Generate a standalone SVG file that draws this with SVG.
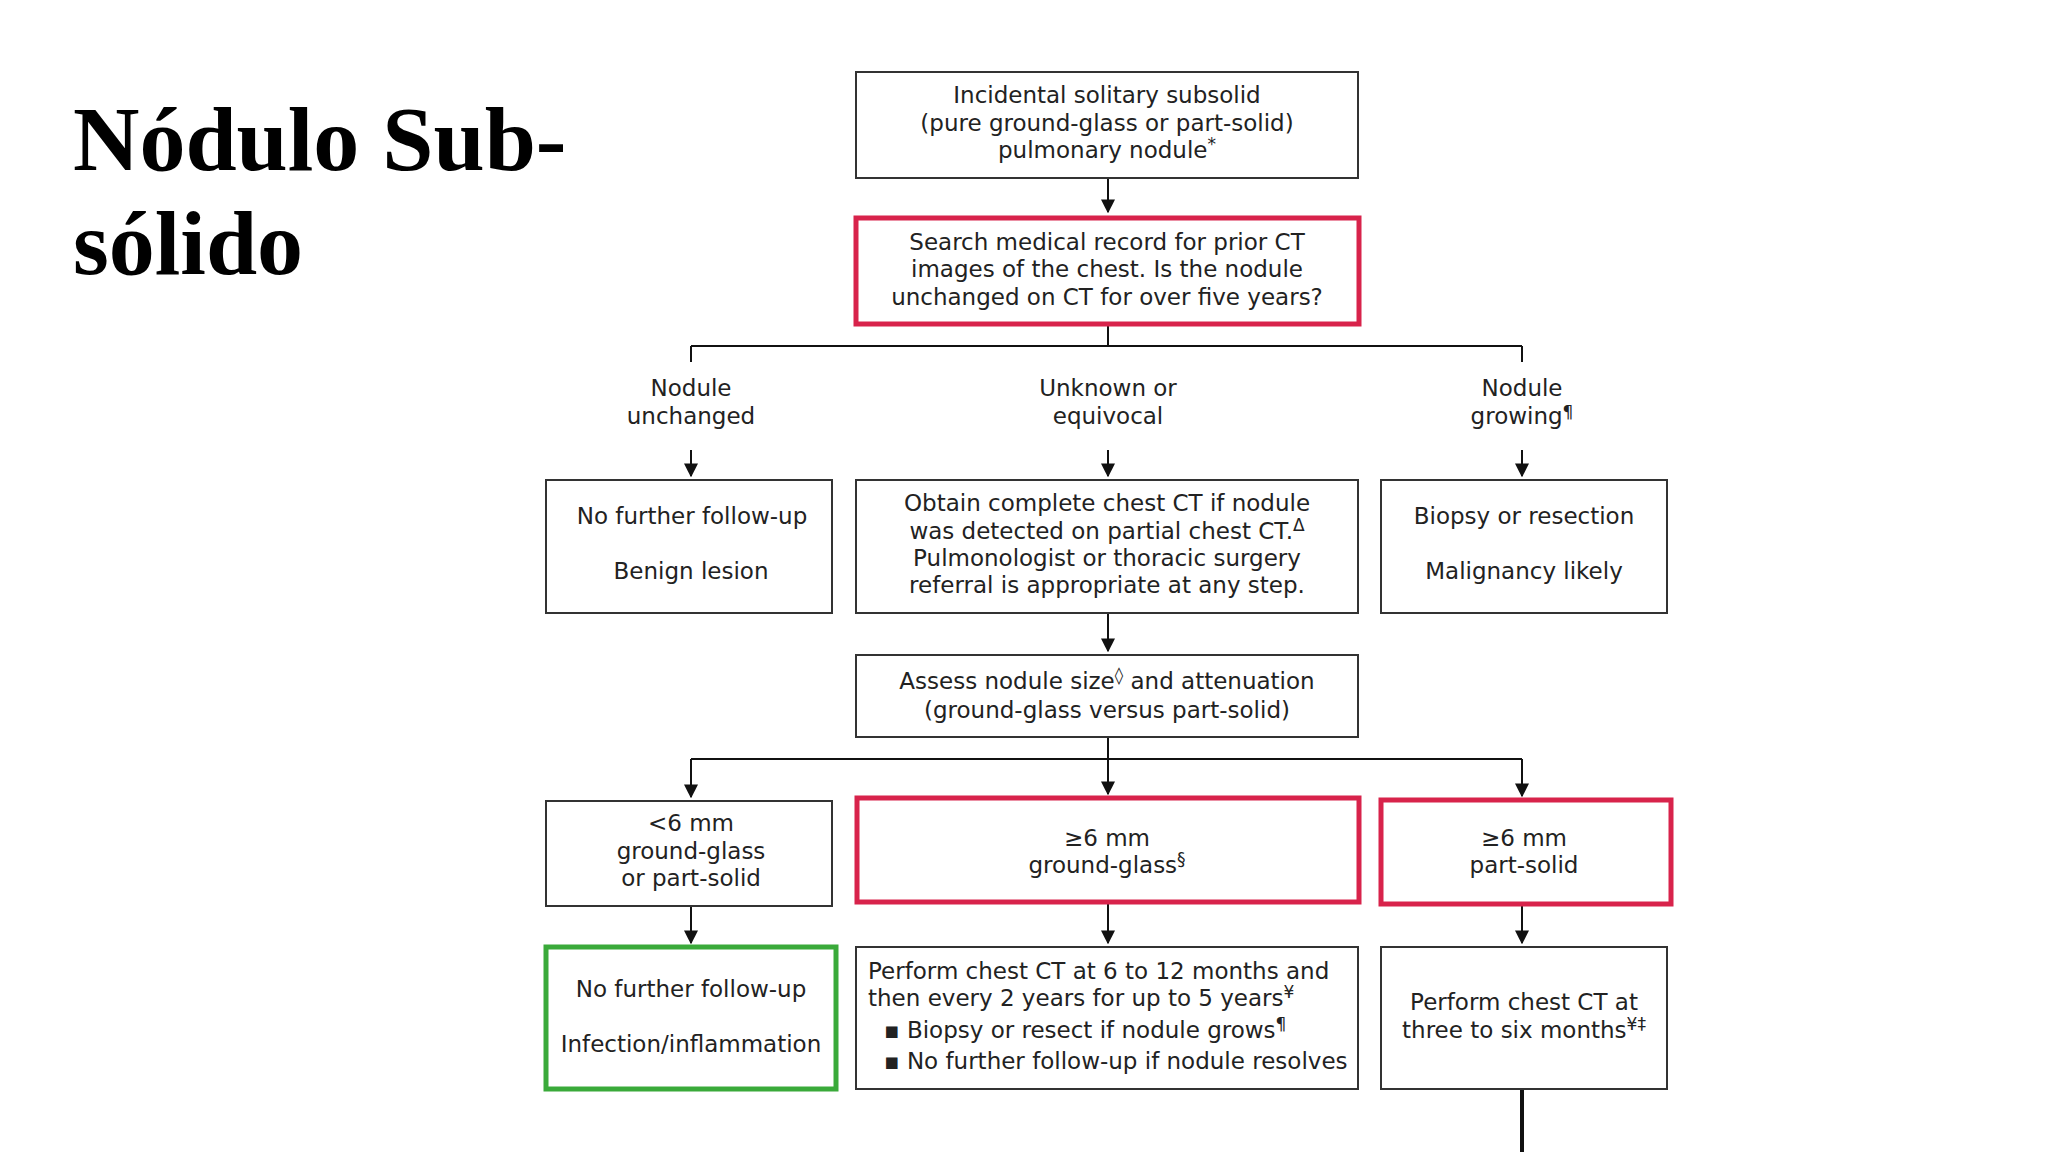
<svg xmlns="http://www.w3.org/2000/svg" width="2048" height="1152" viewBox="0 0 2048 1152">
<style>
.b{fill:#fff;stroke:#333;stroke-width:2}
.r{fill:#fff;stroke:#d8234b;stroke-width:5}
.g{fill:#fff;stroke:#3aaa3a;stroke-width:5}
text{font-family:"DejaVu Sans",Verdana,sans-serif;font-size:23px;fill:#222;text-anchor:middle}
.l{text-anchor:start}
.s{font-size:17px}
.t{font-family:"Liberation Serif","Times New Roman",serif;font-size:92px;font-weight:bold;fill:#000;text-anchor:start}
.c{stroke:#111;stroke-width:2;fill:none}
</style>
<defs><marker id="a" viewBox="0 0 10 10" refX="9" refY="5" markerWidth="14" markerHeight="14" markerUnits="userSpaceOnUse" orient="auto"><path d="M0,0L10,5L0,10z" fill="#111"/></marker></defs>
<rect width="2048" height="1152" fill="#fff"/>
<text class="t" x="73" y="170">Nódulo Sub-</text>
<text class="t" x="73" y="274">sólido</text>
<g id="connectors">
<path class="c" d="M1108,178V212" marker-end="url(#a)"/>
<path class="c" d="M1108,324V346M691,346H1522M691,346V362M1522,346V362"/>
<path class="c" d="M691,450V476" marker-end="url(#a)"/>
<path class="c" d="M1108,450V476" marker-end="url(#a)"/>
<path class="c" d="M1522,450V476" marker-end="url(#a)"/>
<path class="c" d="M1108,613V651" marker-end="url(#a)"/>
<path class="c" d="M1108,737V759M691,759H1522"/>
<path class="c" d="M691,759V797" marker-end="url(#a)"/>
<path class="c" d="M1108,759V794" marker-end="url(#a)"/>
<path class="c" d="M1522,759V796" marker-end="url(#a)"/>
<path class="c" d="M691,906V943" marker-end="url(#a)"/>
<path class="c" d="M1108,904V943" marker-end="url(#a)"/>
<path class="c" d="M1522,906V943" marker-end="url(#a)"/>
<path d="M1522,1090V1152" stroke="#111" stroke-width="4"/>
</g>
<g id="n1"><rect class="b" x="856" y="72" width="502" height="106"/>
<text x="1107" y="103">Incidental solitary subsolid</text><text x="1107" y="131">(pure ground-glass or part-solid)</text><text x="1107" y="158">pulmonary nodule<tspan class="s" dy="-8">*</tspan></text></g>
<g id="n2"><rect class="r" x="856" y="218" width="503" height="106"/>
<text x="1107" y="250">Search medical record for prior CT</text><text x="1107" y="277">images of the chest. Is the nodule</text><text x="1107" y="305">unchanged on CT for over five years?</text></g>
<g id="lab1"><text x="691" y="396">Nodule</text><text x="691" y="424">unchanged</text></g>
<g id="lab2"><text x="1108" y="396">Unknown or</text><text x="1108" y="424">equivocal</text></g>
<g id="lab3"><text x="1522" y="396">Nodule</text><text x="1522" y="424">growing<tspan class="s" dy="-6">¶</tspan></text></g>
<g id="n3"><rect class="b" x="546" y="480" width="286" height="133"/>
<text x="692" y="524">No further follow-up</text><text x="691" y="579">Benign lesion</text></g>
<g id="n4"><rect class="b" x="856" y="480" width="502" height="133"/>
<text x="1107" y="511">Obtain complete chest CT if nodule</text><text x="1107" y="539">was detected on partial chest CT.<tspan class="s" dy="-8">Δ</tspan></text><text x="1107" y="566">Pulmonologist or thoracic surgery</text><text x="1107" y="593">referral is appropriate at any step.</text></g>
<g id="n5"><rect class="b" x="1381" y="480" width="286" height="133"/>
<text x="1524" y="524">Biopsy or resection</text><text x="1524" y="579">Malignancy likely</text></g>
<g id="n6"><rect class="b" x="856" y="655" width="502" height="82"/>
<text x="1107" y="689">Assess nodule size<tspan class="s" dy="-8">◊</tspan><tspan dy="8"> and attenuation</tspan></text><text x="1107" y="718">(ground-glass versus part-solid)</text></g>
<g id="n7"><rect class="b" x="546" y="801" width="286" height="105"/>
<text x="691" y="831">&lt;6 mm</text><text x="691" y="859">ground-glass</text><text x="691" y="886">or part-solid</text></g>
<g id="n8"><rect class="r" x="857" y="798" width="502" height="104"/>
<text x="1107" y="846">≥6 mm</text><text x="1107" y="873">ground-glass<tspan class="s" dy="-8">§</tspan></text></g>
<g id="n9"><rect class="r" x="1381" y="800" width="290" height="104"/>
<text x="1524" y="846">≥6 mm</text><text x="1524" y="873">part-solid</text></g>
<g id="n10"><rect class="g" x="546" y="947" width="290" height="142"/>
<text x="691" y="997">No further follow-up</text><text x="691" y="1052">Infection/inflammation</text></g>
<g id="n11"><rect class="b" x="856" y="947" width="502" height="142"/>
<text class="l" x="868" y="979">Perform chest CT at 6 to 12 months and</text><text class="l" x="868" y="1006">then every 2 years for up to 5 years<tspan class="s" dy="-8">¥</tspan></text>
<text class="l" x="884" y="1038">▪ Biopsy or resect if nodule grows<tspan class="s" dy="-8">¶</tspan></text><text class="l" x="884" y="1069">▪ No further follow-up if nodule resolves</text></g>
<g id="n12"><rect class="b" x="1381" y="947" width="286" height="142"/>
<text x="1524" y="1010">Perform chest CT at</text><text x="1524" y="1038">three to six months<tspan class="s" dy="-8">¥‡</tspan></text></g>
</svg>
